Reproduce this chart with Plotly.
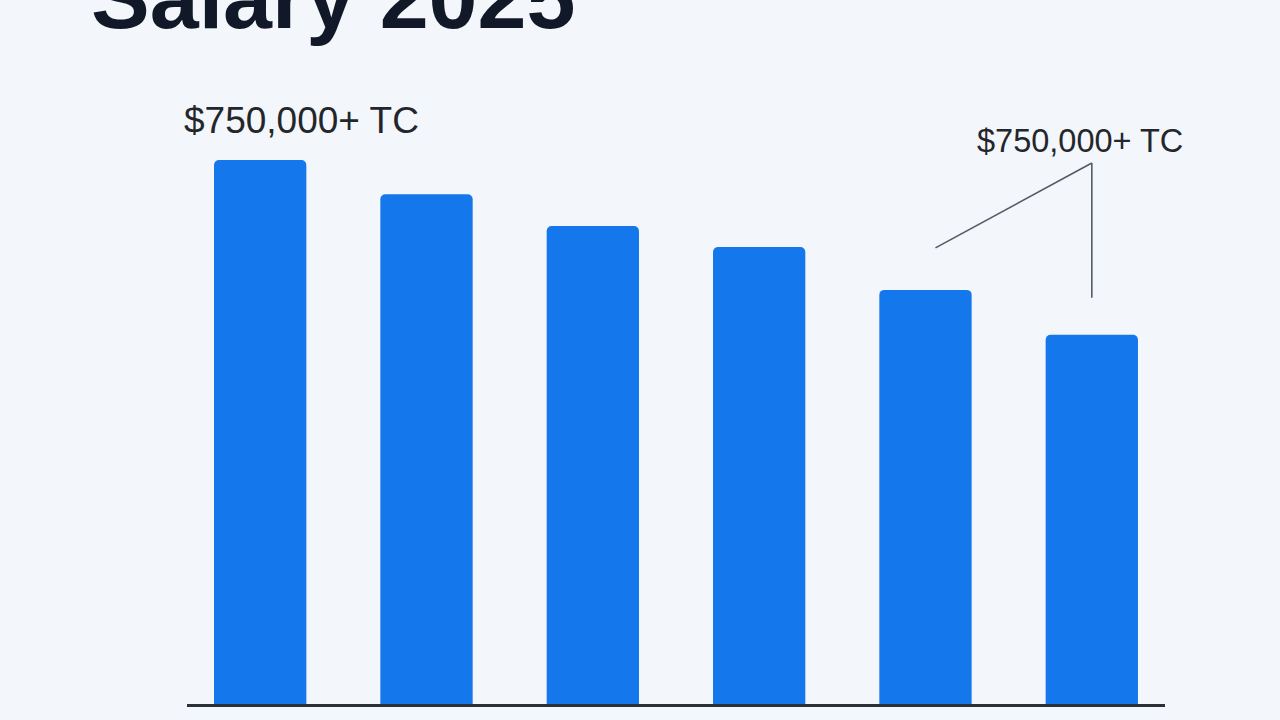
import plotly.graph_objects as go

# Data (units: thousand USD total compensation)
positions = [0, 1, 2, 3, 4, 5]
values = [750, 703, 659, 630, 571, 509]
title_text = "Salary 2025"
label_text = "$750,000+ TC"

bar_color = "#1477EC"
bg = "#F3F6FA"

fig = go.Figure()
fig.add_trace(go.Bar(
    x=positions, y=values,
    marker=dict(color=bar_color, line=dict(width=0), cornerradius=5),
    width=0.555, hoverinfo="skip",
))

# Pointer lines (data coordinates)
fig.add_shape(type="line", xref="x", yref="y", x0=4.06, y0=629, x1=5.0, y1=746,
              line=dict(color="#555B63", width=1.6))
fig.add_shape(type="line", xref="x", yref="y", x0=5.0, y0=746, x1=5.0, y1=560,
              line=dict(color="#555B63", width=1.6))

# Labels
fig.add_annotation(x=0.246, y=805, xref="x", yref="y", text=label_text, showarrow=False,
                   font=dict(family="Liberation Sans", size=37, color="#23262B"))
fig.add_annotation(x=4.926, y=776, xref="x", yref="y", text=label_text, showarrow=False,
                   font=dict(family="Liberation Sans", size=32.5, color="#23262B"))

plot_h = 720 - 60 - 16
plot_w = 1280 - 187 - 115

# Title (cut off at top, as in the reference)
fig.add_annotation(x=(89 - 187) / plot_w, y=(704 + 2) / plot_h, xref="paper", yref="paper",
                   text="<b>" + title_text + "</b>",
                   showarrow=False, xanchor="left", yanchor="middle",
                   font=dict(family="Liberation Sans", size=88, color="#111827"))

fig.update_layout(
    width=1280, height=720,
    margin=dict(l=187, r=115, t=60, b=16),
    paper_bgcolor=bg, plot_bgcolor=bg,
    showlegend=False,
    xaxis=dict(range=[-0.44, 5.44], showgrid=False, zeroline=False, showticklabels=False,
               ticks="", showline=True, linecolor="#2B2F36", linewidth=2.5, fixedrange=True),
    yaxis=dict(range=[0, 888], showgrid=False, zeroline=False, showticklabels=False,
               ticks="", showline=False, fixedrange=True),
)

fig.write_html("out.html", config={"displayModeBar": False},
               post_script="document.body.style.margin='0';document.body.style.background='%s';" % bg)
